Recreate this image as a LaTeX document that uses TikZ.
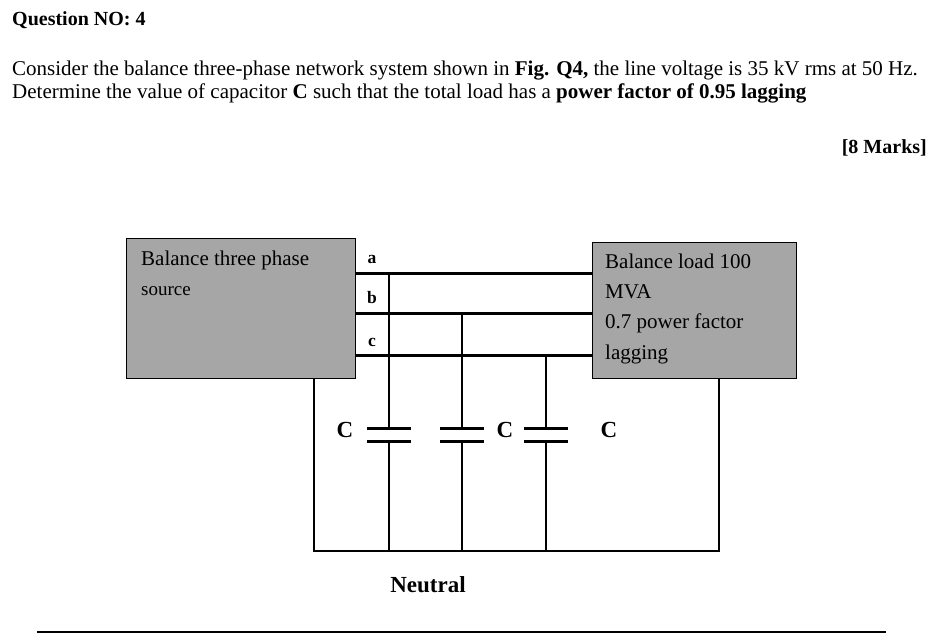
\documentclass[tikz,border=0pt]{standalone}
\usepackage{fontspec}
\setmainfont{Liberation Serif}
\begin{document}
\begin{tikzpicture}[x=1pt,y=-1pt,
  wire/.style={line width=3pt},
  thin wire/.style={line width=2.2pt},
  boxst/.style={draw,fill=black!35,line width=0.8pt},
  txt/.style={anchor=west,inner sep=0pt,font=\fontsize{21}{24}\selectfont},
  lbl/.style={inner sep=0pt,font=\fontsize{17.5}{20}\selectfont\bfseries},
  clbl/.style={inner sep=0pt,font=\fontsize{23}{25}\selectfont\bfseries}]
\useasboundingbox (0,0) rectangle (936,635);
\node[txt,anchor=base west,font=\fontsize{20}{22}\selectfont\bfseries] (q) at (12,25) {Question NO: 4};
\node[txt,anchor=base west,font=\fontsize{21}{24}\selectfont] (l1) at (12,75) {Consider the balance three-phase network system shown in \textbf{Fig. Q4,} the line voltage is 35 kV rms at 50 Hz.};
\node[txt,anchor=base west,font=\fontsize{21}{24}\selectfont] (l2) at (12,98) {Determine the value of capacitor \textbf{C} such that the total load has a \textbf{power factor of 0.95 lagging}};
\node[txt,anchor=base east,font=\fontsize{20}{22}\selectfont\bfseries] (mk) at (927,153) {[8 Marks]};
% boxes
\draw[boxst] (126,238) rectangle (355,378);
\draw[boxst] (592,242) rectangle (796,378);
\node[txt,anchor=base west] (s1) at (141,265) {Balance three phase};
\node[txt,anchor=base west,font=\fontsize{19}{20}\selectfont] (s2) at (141,295) {source};
\node[txt,anchor=base west] (d1) at (605,268) {Balance load 100};
\node[txt,anchor=base west] (d2) at (605,298) {MVA};
\node[txt,anchor=base west] (d3) at (605,328) {0.7 power factor};
\node[txt,anchor=base west] (d4) at (605,359) {lagging};
% lines
\coordinate (a1) at (355,273); \coordinate (a2) at (592,273);
\coordinate (b1) at (355,313); \coordinate (b2) at (592,313);
\coordinate (c1) at (355,355); \coordinate (c2) at (592,355);
\draw[wire] (a1) -- (a2);
\draw[wire] (b1) -- (b2);
\draw[wire] (c1) -- (c2);
\node[lbl] (la) at (372,259) {a};
\node[lbl] (lb) at (372,298) {b};
\node[lbl] (lc) at (372,342) {c};
% capacitors
\foreach \x/\y in {389/273,462/313,546/355}{
  \draw[thin wire] (\x,\y) -- (\x,428);
  \draw[wire] (\x-22,428) -- (\x+22,428);
  \draw[wire] (\x-22,441) -- (\x+22,441);
  \draw[thin wire] (\x,441) -- (\x,551);
}
\draw[thin wire] (314,378) -- (314,551) -- (719,551) -- (719,378);
\node[clbl] (C1) at (345,430) {C};
\node[clbl] (C2) at (505,430) {C};
\node[clbl] (C3) at (609,430) {C};
\node[clbl] (n) at (428,585) {Neutral};
\draw[line width=1.5pt] (37,632) -- (886,632);
\end{tikzpicture}
\end{document}
